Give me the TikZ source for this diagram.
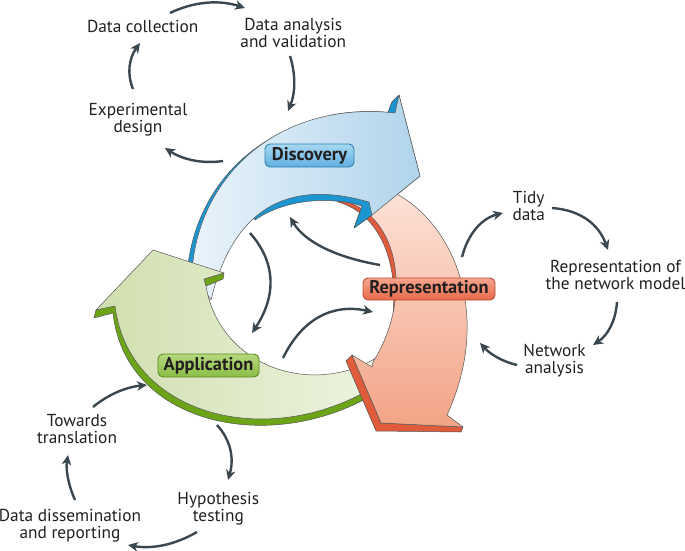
\documentclass[tikz,border=0pt]{standalone}
\usepackage{fontspec}
\setmainfont{PT Sans}
\usetikzlibrary{arrows.meta}
\definecolor{bluedark}{HTML}{1D95D0}
\definecolor{bluelightA}{HTML}{E9F3FB}
\definecolor{bluelightB}{HTML}{B1D4EB}
\definecolor{reddark}{HTML}{E05A3C}
\definecolor{redlightA}{HTML}{FDE4DA}
\definecolor{redlightB}{HTML}{F3A386}
\definecolor{greendark}{HTML}{6DA316}
\definecolor{greenlightA}{HTML}{D0DFAE}
\definecolor{greenlightB}{HTML}{EFF5E4}
\definecolor{edgecol}{HTML}{555555}
\definecolor{textcol}{HTML}{231F20}
\definecolor{arrowcol}{HTML}{3A474F}
\definecolor{discA}{HTML}{A8D8F2}
\definecolor{discB}{HTML}{5FB0E0}
\definecolor{discE}{HTML}{2F7FB0}
\definecolor{reprA}{HTML}{F6A58D}
\definecolor{reprB}{HTML}{E8694A}
\definecolor{reprE}{HTML}{B94A30}
\definecolor{applA}{HTML}{B5D77C}
\definecolor{applB}{HTML}{8BBD45}
\definecolor{applE}{HTML}{5B8B20}
\newcommand\drawBlueArr{%
 \path[edge, fill=bluedark] (187,276) .. controls (193,178) and (275,103) .. (390,116) -- (385,140) -- (235,205) -- (207,282) -- cycle;
 \path[edge, fill=bluedark] (255,220) .. controls (285,199) and (330,196) .. (362,206) -- (354,228) -- (372,215) -- (376,195) -- (300,186) -- (250,212) -- cycle;
 \path[edge, fill=bluedark] (387,115) -- (392,102) -- (399,95) -- (395,113) -- cycle;
 \path[edge, left color=bluelightA, right color=bluelightB] (192,272) .. controls (198,175) and (280,100) .. (395,113) -- (399,95) -- (420,176) -- (372,215) -- (369,202) .. controls (320,188) and (240,180) .. (211,300) -- cycle;
}
\newcommand\drawRedArr{%
 \path[edge, fill=reddark] (338,202) .. controls (380,214) and (398,262) .. (393,314) -- (405,300) -- (400,222) -- (360,195) -- cycle;
 \path[edge, fill=reddark] (346,361) -- (352,355) -- (381,423) -- (463,427) -- (461,432) -- (376,431) -- cycle;
 \path[edge, top color=redlightA, bottom color=redlightB] (365,183) .. controls (440,195) and (500,300) .. (447,415) -- (463,427) -- (381,423) -- (352,355) -- (372,367) -- (373,362) .. controls (412,300) and (400,222) .. (350,203) -- cycle;
}
\newcommand\drawGreenArr{%
 \path[edge, fill=greendark] (94,318) -- (96,310) -- (116,305) -- (140,330) -- (300,400) -- (390,372) -- (395,380) .. controls (290,460) and (126,432) .. (113,313) -- cycle;
 \path[edge, fill=greendark] (204,279) -- (224,273) -- (223,279) -- (206,286) -- cycle;
 \path[edge, left color=greenlightA, right color=greenlightB] (153,250) -- (224,273) -- (204,279) -- (206,286) .. controls (220,370) and (320,400) .. (385,352) -- (395,372) .. controls (290,455) and (130,425) .. (115,306) -- (96,310) -- cycle;
}
\begin{document}
\begin{tikzpicture}[x=1pt,y=-1pt,
 edge/.style={draw=edgecol, line width=0.5pt, line join=round},
 conn/.style={draw=arrowcol, line width=2.4pt, -{Stealth[length=10pt,width=9.5pt,inset=3pt]}},
 lbl/.style={inner sep=0pt, align=center, text=textcol, font=\fontsize{17.3}{17.3}\selectfont},
 tagbox/.style={rounded corners=5pt, line width=0.9pt, inner sep=0pt, minimum height=23pt, text=textcol, font=\fontsize{18.4}{18.4}\selectfont\bfseries}]
\useasboundingbox (0,0) rectangle (685,551);
% big cycle arrows
\drawBlueArr
\drawGreenArr
\drawRedArr
\begin{scope}
 \clip (330,85) rectangle (440,235);
 \drawBlueArr
\end{scope}
% tags
\node[tagbox, minimum width=89pt, top color=discA, bottom color=discB, draw=discE] (disc) at (309.5,155.5) {Discovery};
\node[tagbox, minimum width=132pt, minimum height=22pt, top color=reprA, bottom color=reprB, draw=reprE] (repr) at (429,289) {Representation};
\node[tagbox, minimum width=101pt, top color=applA, bottom color=applB, draw=applE] (appl) at (208.5,365.5) {Application};
% labels
\node[lbl] (dc) at (142.7,26.5) {Data collection};
\node[lbl] (da) at (293.3,33.2) {Data analysis\\and validation};
\node[lbl] (ed) at (138,119.7) {Experimental\\design};
\node[lbl] (tidy) at (528.7,205.7) {Tidy\\data};
\node[lbl] (rn) at (615.5,274.7) {Representation of\\the network model};
\node[lbl] (na) at (554.5,360.5) {Network\\analysis};
\node[lbl] (tt) at (77,429) {Towards\\translation};
\node[lbl] (ht) at (218.3,509) {Hypothesis\\testing};
\node[lbl] (dd) at (70,525.8) {Data dissemination\\and reporting};
% connector end points
\coordinate (a1s) at (170,13);  \coordinate (a1e) at (245,8);
\coordinate (a2s) at (290,56);  \coordinate (a2e) at (288,111);
\coordinate (a3s) at (223,161); \coordinate (a3e) at (165,148);
\coordinate (a4s) at (133,89);  \coordinate (a4e) at (140,43);
\coordinate (b1s) at (462,257); \coordinate (b1e) at (503,213);
\coordinate (b2s) at (552,208); \coordinate (b2e) at (608,250);
\coordinate (b3s) at (617,302); \coordinate (b3e) at (593,345);
\coordinate (b4s) at (517,365); \coordinate (b4e) at (480,343);
\coordinate (c1s) at (217,425); \coordinate (c1e) at (228,480);
\coordinate (c2s) at (197,532); \coordinate (c2e) at (128,545);
\coordinate (c3s) at (75,500);  \coordinate (c3e) at (68,455);
\coordinate (c4s) at (93,407);  \coordinate (c4e) at (147,385);
\coordinate (m1s) at (380,265); \coordinate (m1e) at (290,217);
\coordinate (m2s) at (250,233); \coordinate (m2e) at (252,333);
\coordinate (m3s) at (283,358); \coordinate (m3e) at (373,312);
% connectors
\draw[conn] (a1s) .. controls (194.3,1.3) and (219.3,-0.3) .. (a1e);
\draw[conn] (a2s) .. controls (296,75) and (295.3,93.3) .. (a2e);
\draw[conn] (a3s) .. controls (202.3,164) and (183,159.7) .. (a3e);
\draw[conn] (a4s) .. controls (126.7,73.7) and (129,58.3) .. (a4e);
\draw[conn] (b1s) .. controls (468.3,233) and (482,218.3) .. (b1e);
\draw[conn] (b2s) .. controls (580,210) and (598.7,224) .. (b2e);
\draw[conn] (b3s) .. controls (615.7,321) and (607.7,335.3) .. (b3e);
\draw[conn] (b4s) .. controls (502.7,361.7) and (490.3,354.3) .. (b4e);
\draw[conn] (c1s) .. controls (230.7,440) and (234.3,458.3) .. (c1e);
\draw[conn] (c2s) .. controls (174.7,545) and (151.7,549.3) .. (c2e);
\draw[conn] (c3s) .. controls (68,484.3) and (65.7,469.3) .. (c3e);
\draw[conn] (c4s) .. controls (108.3,394.3) and (126.3,387) .. (c4e);
\draw[conn] (m1s) .. controls (334,257) and (304,241) .. (m1e);
\draw[conn] (m2s) .. controls (276,262.3) and (276.7,295.7) .. (m2e);
\draw[conn] (m3s) .. controls (302.3,318.7) and (332.3,303.3) .. (m3e);
\end{tikzpicture}
\end{document}
